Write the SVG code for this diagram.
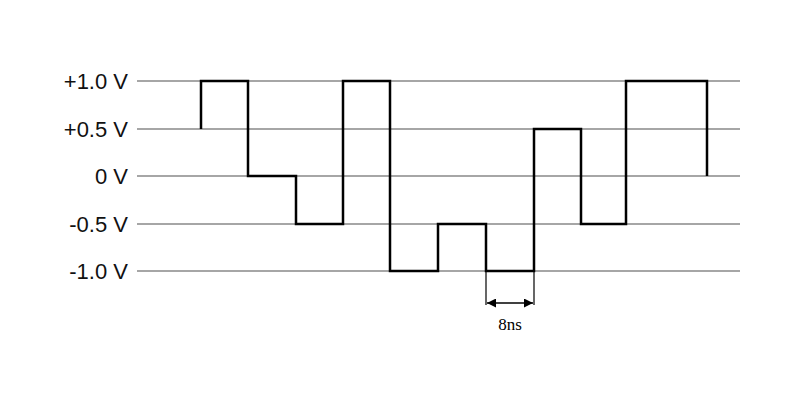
<svg xmlns="http://www.w3.org/2000/svg" width="800" height="400" viewBox="0 0 800 400">
<style>
.grid{stroke:#888;stroke-width:1.5}
.lbl{font-family:"Liberation Sans",Arial,sans-serif;font-size:22px;fill:#111;text-anchor:end}
.wave{fill:none;stroke:#000;stroke-width:2.5}
</style>
<defs>
<marker id="ah" viewBox="0 0 10 10" refX="10" refY="5" markerWidth="12" markerHeight="9" markerUnits="userSpaceOnUse" orient="auto-start-reverse"><path d="M0,0L10,5L0,10z" fill="#000"/></marker>
</defs>
<rect width="800" height="400" fill="#fff"/>
<g id="axes">
<line class="grid" x1="137" y1="81" x2="740" y2="81"/>
<line class="grid" x1="137" y1="129" x2="740" y2="129"/>
<line class="grid" x1="137" y1="176" x2="740" y2="176"/>
<line class="grid" x1="137" y1="224" x2="740" y2="224"/>
<line class="grid" x1="137" y1="271" x2="740" y2="271"/>
<text class="lbl" x="128" y="89">+1.0 V</text>
<text class="lbl" x="128" y="137">+0.5 V</text>
<text class="lbl" x="128" y="184">0 V</text>
<text class="lbl" x="128" y="232">-0.5 V</text>
<text class="lbl" x="128" y="279">-1.0 V</text>
</g>
<g id="wave">
<path class="wave" d="M201,129V81H248V176H296V224H343V81H390V271H438V224H486V271H534V129H581V224H626V81H707V176"/>
</g>
<g id="connectors">
<line x1="486" y1="271" x2="486" y2="305" stroke="#000" stroke-width="1.2"/>
<line x1="534" y1="271" x2="534" y2="305" stroke="#000" stroke-width="1.2"/>
<line x1="487" y1="303" x2="533" y2="303" stroke="#000" stroke-width="1.5" marker-start="url(#ah)" marker-end="url(#ah)"/>
<text x="510" y="330" font-family="Liberation Serif,serif" font-size="17" text-anchor="middle">8ns</text>
</g>
</svg>
